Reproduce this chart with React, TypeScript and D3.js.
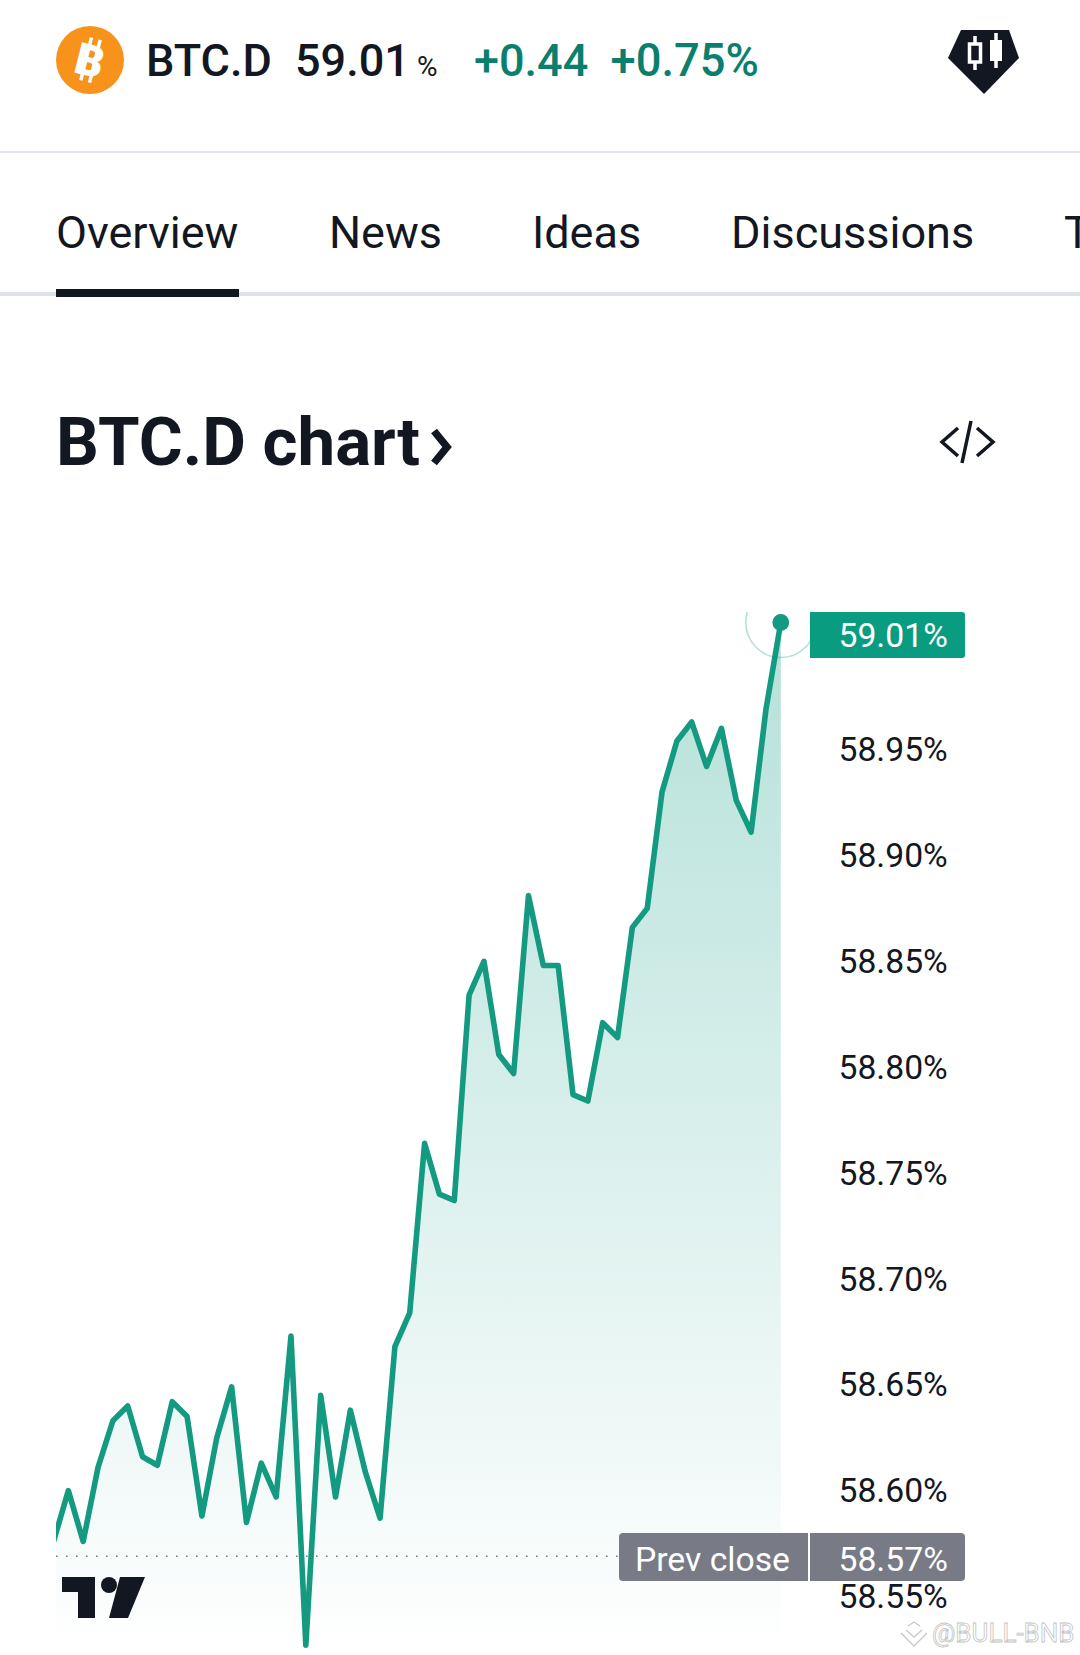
import * as d3 from 'd3'
import { useRef, useEffect } from 'react'

const width = 1080
const height = 1655
const font = 'Roboto, sans-serif'

// one value per sample
const dominance = [
  58.576, 58.6, 58.576, 58.611, 58.633, 58.64, 58.616, 58.612, 58.642, 58.635,
  58.588, 58.625, 58.649, 58.585, 58.613, 58.597, 58.673, 58.527, 58.645, 58.597,
  58.638, 58.609, 58.587, 58.668, 58.684, 58.764, 58.74, 58.737, 58.834, 58.85,
  58.806, 58.797, 58.881, 58.848, 58.848, 58.787, 58.784, 58.821, 58.814, 58.866,
  58.875, 58.93, 58.954, 58.963, 58.942, 58.96, 58.926, 58.911, 58.969, 59.01,
]
const priceTicks = [58.55, 58.6, 58.65, 58.7, 58.75, 58.8, 58.85, 58.9, 58.95]
const prevClose = 58.569
const tabs = ['Overview', 'News', 'Ideas', 'Discussions', 'T']
const tabX = [56, 329, 532, 731, 1064]

const x = d3.scaleLinear().domain([0, dominance.length - 1]).range([53.5, 780.8])
const y = d3.scaleLinear().domain([58.55, 59.01]).range([1596.5, 622.5])

const line = d3.line<number>().x((d, i) => x(i)).y((d) => y(d))
const area = d3.area<number>().x((d, i) => x(i)).y0(height).y1((d) => y(d))

const last = dominance[dominance.length - 1]
const lastX = x(dominance.length - 1)
const lastY = y(last)
const prevY = y(prevClose)

export default function App() {
  const axisRef = useRef<SVGGElement | null>(null)

  useEffect(() => {
    const g = d3.select(axisRef.current)
    g.call(
      d3.axisRight(y)
        .tickValues(priceTicks)
        .tickSize(0)
        .tickPadding(0)
        .tickFormat((d) => `${(+d).toFixed(2)}%`)
    )
    g.select('.domain').remove()
    g.selectAll('text')
      .attr('font-family', font)
      .attr('font-size', 33.7)
      .attr('fill', '#131722')
      .attr('dy', '0.33em')
  }, [])

  return (
    <svg width={width} height={height} viewBox={`0 0 ${width} ${height}`}
      style={{ position: 'absolute', left: 0, top: 0, display: 'block', background: '#fff' }}>
      <defs>
        <linearGradient id="fade" gradientUnits="userSpaceOnUse" x1="0" x2="0" y1={lastY} y2={height}>
          <stop offset="0" stopColor="#089981" stopOpacity="0.3" />
          <stop offset="1" stopColor="#089981" stopOpacity="0" />
        </linearGradient>
        <clipPath id="plot"><rect x="56" y="600" width="760" height={height - 600} /></clipPath>
        <clipPath id="ring"><rect x="700" y="612" width="110" height="70" /></clipPath>
      </defs>

      {/* header */}
      <circle cx="90" cy="60" r="34" fill="#f7931a" />
      <g transform="rotate(14 90 60)" stroke="#fff" strokeWidth="3.5">
        <line x1="86" x2="86" y1="38" y2="82" />
        <line x1="95" x2="95" y1="38" y2="82" />
      </g>
      <text x="90" y="76" textAnchor="middle" fontFamily={font} fontWeight="900" fontSize="44" fill="#fff"
        transform="rotate(14 90 60)">B</text>
      <text x="146" y="76" fontFamily={font} fontWeight="500" fontSize="45" fill="#131722">BTC.D</text>
      <text x="295" y="76" fontFamily={font} fontWeight="500" fontSize="45" fill="#131722">59.01</text>
      <text x="417" y="76" fontFamily={font} fontSize="28" fill="#131722">%</text>
      <text x="474" y="76" fontFamily={font} fontWeight="500" fontSize="45" fill="#0b7f6d">+0.44</text>
      <text x="610.5" y="76" fontFamily={font} fontWeight="500" fontSize="45.3" fill="#0b7f6d">+0.75%</text>

      {/* badge */}
      <path d="M961 30H1009L1019 58L984 94L948 58Z" fill="#131722" />
      <path d="M975 36V44M975 62V70M996 33V41M996 61V68" stroke="#fff" strokeWidth="3.5" />
      <rect x="969.5" y="44" width="11" height="18" fill="#131722" stroke="#fff" strokeWidth="3.5" />
      <rect x="990" y="40" width="12" height="21" fill="#fff" />

      <rect x="0" y="151" width={width} height="2" fill="#e0e3eb" />

      {/* tabs */}
      {tabs.map((t, i) => (
        <text key={t} x={tabX[i]} y="248" fontFamily={font} fontSize="45" fill="#131722">{t}</text>
      ))}
      <rect x="0" y="292" width={width} height="4" fill="#e0e3eb" />
      <rect x="56" y="289" width="183" height="8" fill="#131722" />

      {/* title */}
      <text x="56" y="465" fontFamily={font} fontWeight="700" fontSize="67.2" fill="#131722">BTC.D chart</text>
      <path d="M434 431L447 447L434 463" fill="none" stroke="#131722" strokeWidth="7.5" />
      <path d="M958 428L942 442L958 456M977 428L993 442L977 456M971 421L962 463" fill="none" stroke="#131722" strokeWidth="3.5" />

      {/* chart */}
      <path d={area(dominance) ?? ''} fill="url(#fade)" clipPath="url(#plot)" />
      <line x1="56" x2="619" y1={prevY} y2={prevY} stroke="#787b86" strokeWidth="1.6" strokeDasharray="1.6 8.4" />
      <path d={line(dominance) ?? ''} fill="none" stroke="#139a80" strokeWidth="5.6" strokeLinejoin="round" clipPath="url(#plot)" />
      <circle cx={lastX} cy={lastY} r="35" fill="none" stroke="#089981" strokeOpacity="0.3" strokeWidth="1.6" clipPath="url(#ring)" />
      <circle cx={lastX} cy={lastY} r="8.4" fill="#139a80" />

      <g ref={axisRef} transform="translate(838.5,0)" />

      {/* last value tag */}
      <path d="M810 612H962a3 3 0 0 1 3 3V655a3 3 0 0 1 -3 3H810Z" fill="#0a9c80" />
      <text x="838.5" y="647" fontFamily={font} fontSize="33.7" fill="#fff">{last.toFixed(2)}%</text>

      {/* prev close tag */}
      <path d="M808 1533V1581H623a4 4 0 0 1 -4 -4V1537a4 4 0 0 1 4 -4Z" fill="#787b86" />
      <path d="M810 1533H961a4 4 0 0 1 4 4V1577a4 4 0 0 1 -4 4H810Z" fill="#787b86" />
      <text x="635" y="1571" fontFamily={font} fontSize="33.7" fill="#fff">Prev close</text>
      <text x="838.5" y="1571" fontFamily={font} fontSize="33.7" fill="#fff">{(58.57).toFixed(2)}%</text>

      {/* tradingview logo */}
      <path d="M62 1577H95V1618H78V1592H62Z" fill="#131722" />
      <circle cx="109" cy="1585" r="8" fill="#131722" />
      <path d="M120 1577H145L128 1618H109Z" fill="#131722" />

      {/* watermark */}
      <path d="M901 1633L914 1646L927 1633M906 1630L914 1637L922 1630M908 1626L914 1622L920 1626" fill="none" stroke="#c9c9c9" strokeWidth="1.4" />
      <text x="932" y="1642" fontFamily={font} fontSize="26" fill="#fff" stroke="#c4c4c4" strokeWidth="0.8">@BULL-BNB</text>
    </svg>
  )
}
